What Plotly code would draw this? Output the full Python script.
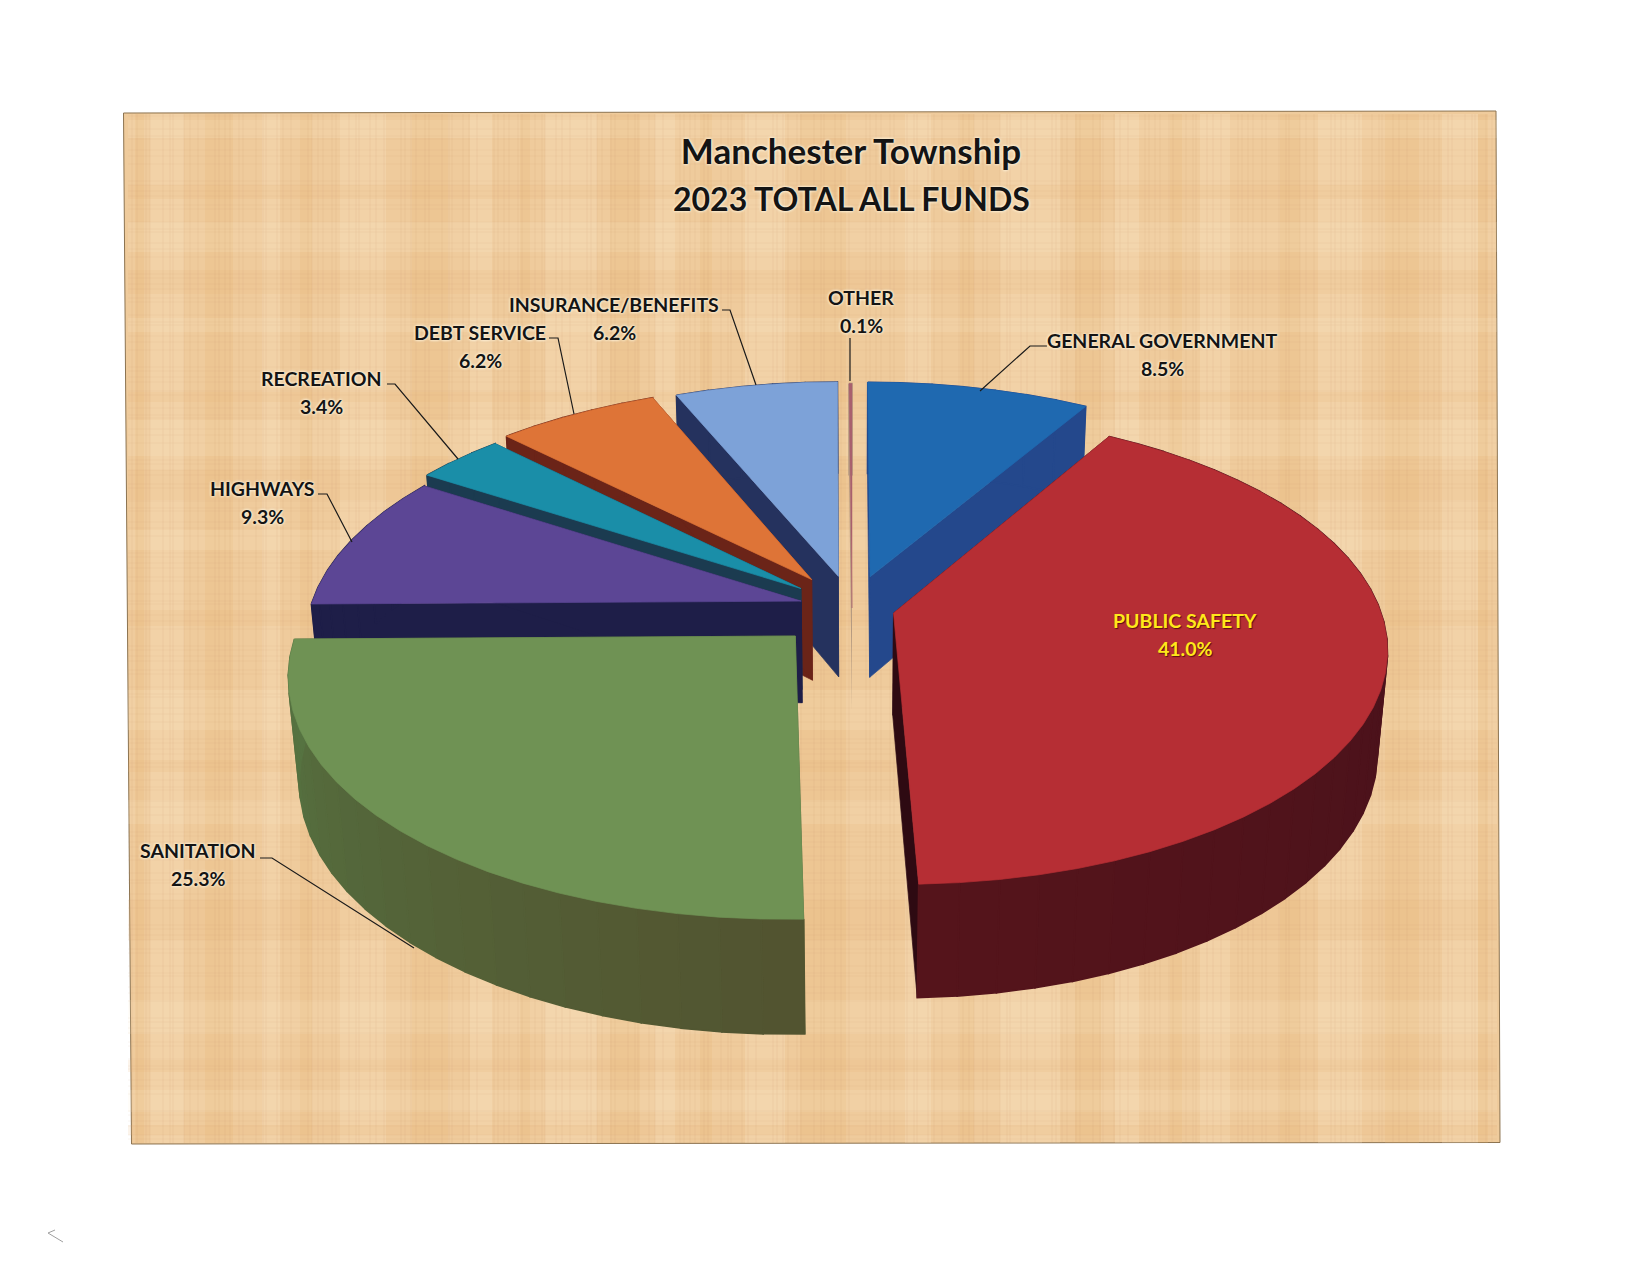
import math
import plotly.graph_objects as go

# ---- data -------------------------------------------------------------
categories = ["OTHER", "GENERAL GOVERNMENT", "PUBLIC SAFETY", "SANITATION",
              "HIGHWAYS", "RECREATION", "DEBT SERVICE", "INSURANCE/BENEFITS"]
values = [0.1, 8.5, 41.0, 25.3, 9.3, 3.4, 6.2, 6.2]
title_lines = ["Manchester Township", "2023 TOTAL ALL FUNDS"]

# ---- style ------------------------------------------------------------
pull = [0.0, 0.142, 0.087, 0.164, 0.108, 0.135, 0.150, 0.142]
radius = [1.13, 1.0, 0.99, 1.0, 1.0, 1.0, 1.0, 1.0]
top_colors = ["#A8606E", "#1F69B0", "#B62E34", "#6F9254", "#5C4695", "#1A8EA8", "#DE7437", "#7DA2D8"]
wall_colors = ["#B59A80", "#24488C", "#2E0A12", "#4C6238", "#1E1E48", "#1B3B50", "#6B2418", "#25325E"]
rim_from = ["#B59A80", "#24488C", "#42101A", "#525430", "#1E1E48", "#1B3B50", "#6B2418", "#25325E"]
rim_to = ["#B59A80", "#24488C", "#55141B", "#567341", "#1E1E48", "#1B3B50", "#6B2418", "#25325E"]
draw_order = [7, 0, 1, 6, 5, 4, 3, 2]

CX, CY = 852, 608          # pixel position of the pie centre
FOCAL, DIST = 2912, 5.93   # camera
TILT = math.radians(28.2)
DEPTH = 0.24               # pie thickness
START = -0.36              # first slice angle, degrees clockwise from top


def project(x, y, z):
    depth = DIST - y * math.cos(TILT) - z * math.sin(TILT)
    yc = -y * math.sin(TILT) + z * math.cos(TILT)
    return CX + FOCAL * x / depth, CY - FOCAL * yc / depth


def polygon(points, color, name, width=0.7):
    xs, ys = zip(*[project(*p) for p in points])
    return go.Scatter(x=list(xs) + [xs[0]], y=list(ys) + [ys[0]], mode="lines", fill="toself",
                      fillcolor=color, line=dict(color=color, width=width), name=name,
                      hoverinfo="name", showlegend=False)


def blend(c1, c2, t):
    a = [int(c1[i:i + 2], 16) for i in (1, 3, 5)]
    b = [int(c2[i:i + 2], 16) for i in (1, 3, 5)]
    return "#%02X%02X%02X" % tuple(round(u + (v - u) * t) for u, v in zip(a, b))


total = sum(values)
spans = []
acc = START
for v in values:
    spans.append((acc, acc + v / total * 360))
    acc = spans[-1][1]

traces = []
for i in draw_order:
    a0, a1 = spans[i]
    mid = math.radians((a0 + a1) / 2)
    ox, oy = pull[i] * math.sin(mid), -pull[i] * math.cos(mid)
    r = radius[i]
    n = max(2, int((a1 - a0) / 4))
    ring = [(ox + r * math.sin(math.radians(a0 + (a1 - a0) * k / n)),
             oy - r * math.cos(math.radians(a0 + (a1 - a0) * k / n))) for k in range(n + 1)]
    name = categories[i]
    # radial walls
    for rx, ry in (ring[0], ring[-1]):
        traces.append(polygon([(ox, oy, 0), (rx, ry, 0), (rx, ry, -DEPTH), (ox, oy, -DEPTH)],
                              wall_colors[i], name, width=0 if i == 0 else 0.7))
    # outer wall, drawn in strips so that the shade can change along the rim
    for k in range(n):
        p, q = ring[k], ring[k + 1]
        t = k / max(1, n - 1)
        traces.append(polygon([(p[0], p[1], 0), (q[0], q[1], 0), (q[0], q[1], -DEPTH), (p[0], p[1], -DEPTH)],
                              blend(rim_from[i], rim_to[i], t if i == 3 else t), name, width=1.6))
    # top
    traces.append(polygon([(ox, oy, 0)] + [(c[0], c[1], 0) for c in ring], top_colors[i], name,
                          width=0.5 if i == 0 else 0.7))

fig = go.Figure(traces)

# ---- parchment --------------------------------------------------------
PANEL = "M123.5,113 L1496,111 L1500,1142.5 L131.5,1144 Z"
shapes = [dict(type="path", path=PANEL, fillcolor="#EFCB9C", line=dict(color="#8C7350", width=1), layer="below")]
# (position, width) of the darker fibres and the pale gaps in the paper
v_pale = [(150, 34), (262, 18), (340, 46), (470, 22), (545, 52), (655, 20), (745, 40), (905, 26), (1000, 60),
          (1115, 24), (1200, 30), (1318, 44), (1442, 36)]
v_warm = [(135, 9), (205, 28), (300, 12), (412, 36), (520, 10), (610, 30), (700, 12), (800, 46), (960, 14),
          (1075, 26), (1170, 12), (1280, 20), (1385, 34), (1478, 10)]
h_pale = [(120, 18), (222, 30), (318, 14), (420, 36), (530, 20), (690, 40), (800, 24), (1000, 34), (1090, 22)]
h_warm = [(185, 14), (270, 24), (392, 10), (470, 30), (610, 16), (760, 12), (900, 40), (1060, 12), (1125, 10)]
for pos, wid in v_pale:
    shapes.append(dict(type="rect", x0=pos, x1=pos + wid, y0=114, y1=1143, fillcolor="#FFEFD8", opacity=0.2,
                       line_width=0, layer="below"))
for pos, wid in v_warm:
    shapes.append(dict(type="rect", x0=pos, x1=pos + wid, y0=114, y1=1143, fillcolor="#E8B274", opacity=0.2,
                       line_width=0, layer="below"))
for pos, wid in h_pale:
    shapes.append(dict(type="rect", x0=128, x1=1497, y0=pos, y1=pos + wid, fillcolor="#FFEFD8", opacity=0.14,
                       line_width=0, layer="below"))
for pos, wid in h_warm:
    shapes.append(dict(type="rect", x0=128, x1=1497, y0=pos, y1=pos + wid, fillcolor="#E8B274", opacity=0.14,
                       line_width=0, layer="below"))
pitch = [5, 9, 4, 13, 7, 3, 11, 6, 8, 17, 4, 6]
path_v, path_h = [], []
pos, k = 132, 0
while pos < 1495:
    path_v.append(f"M{pos},114 L{pos},1143")
    pos += pitch[k % len(pitch)]
    k += 1
pos, k = 116, 3
while pos < 1142:
    path_h.append(f"M128,{pos} L1497,{pos}")
    pos += pitch[k % len(pitch)]
    k += 1
shapes.append(dict(type="path", path=" ".join(path_v), line=dict(color="#C8946A", width=1), opacity=0.13, layer="below"))
shapes.append(dict(type="path", path=" ".join(path_h), line=dict(color="#C8946A", width=1), opacity=0.09, layer="below"))

# ---- leader lines -----------------------------------------------------
leaders = [
    "M722,310 L730,310 L756,385", "M850,338 L850,381", "M1047,346 L1030,346 L980,391",
    "M549,338 L558,338 L574,414", "M387,384 L395,384 L458,459", "M318,494 L327,494 L352,542",
    "M260,858 L272,858 L414,948",
]
for d in leaders:
    shapes.append(dict(type="path", path=d, line=dict(color="#1A1A1A", width=1.2)))
shapes.append(dict(type="path", path="M55,1230 L48,1233 L63,1242", line=dict(color="#A0A0A0", width=1)))

# ---- labels -----------------------------------------------------------
label_pos = {
    "OTHER": (861, 297), "GENERAL GOVERNMENT": (1162, 340), "PUBLIC SAFETY": (1185, 620),
    "SANITATION": (198, 850), "HIGHWAYS": (262, 488), "RECREATION": (321, 378),
    "DEBT SERVICE": (480, 332), "INSURANCE/BENEFITS": (614, 304),
}
GLOW = "0 0 3px #FFF6E0, 0 0 3px #FFF6E0"
annotations = []
for cat, val in zip(categories, values):
    lx, ly = label_pos[cat]
    color = "#FFE81A" if cat == "PUBLIC SAFETY" else "#141414"
    shadow = "1px 1px 1px #5A1010" if cat == "PUBLIC SAFETY" else GLOW
    for text, yy in ((cat, ly), (f"{val:.1f}%", ly + 28)):
        annotations.append(dict(x=lx, y=yy, xref="x", yref="y", text=text, showarrow=False,
                                font=dict(family="Lato", size=19.5, color=color, weight=700, shadow=shadow)))
annotations.append(dict(x=851, y=198, xref="x", yref="y", text=title_lines[1], showarrow=False,
                        font=dict(family="Lato", size=32, color="#141414", weight=700, shadow=GLOW)))

fig.update_layout(
    width=1642, height=1273, margin=dict(l=0, r=0, t=0, b=0),
    paper_bgcolor="white", plot_bgcolor="white", showlegend=False,
    xaxis=dict(range=[0, 1642], visible=False, fixedrange=True),
    yaxis=dict(range=[1273, 0], visible=False, fixedrange=True),
    shapes=shapes, annotations=annotations,
    title=dict(text=title_lines[0], x=851 / 1642, xanchor="center",
               y=1 - 152 / 1273, yanchor="middle",
               font=dict(family="Lato", size=35, color="#141414", weight=700, shadow=GLOW)),
)
fig.write_html("out.html", post_script="document.body.style.margin='0';",
               config={"displayModeBar": False})
